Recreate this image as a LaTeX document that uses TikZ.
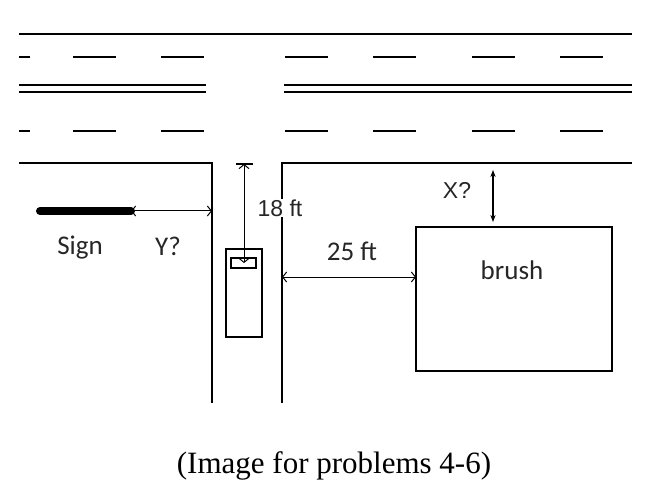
\documentclass[tikz,border=0pt]{standalone}
\usepackage{fontspec}
\setmainfont{Liberation Serif}
\newfontfamily\calib{Carlito}
\newfontfamily\arialf{Liberation Sans}
\usetikzlibrary{arrows.meta,positioning}
\tikzset{
  road/.style={line width=2pt},
  dim/.style={line width=1pt,{Straight Barb[length=4pt,width=10pt]}-{Straight Barb[length=4pt,width=10pt]}},
  lbl/.style={font=\calib\fontsize{27}{27}\selectfont,text=black!85},
  albl/.style={font=\arialf\fontsize{23}{23}\selectfont,text=black!85,inner sep=1pt}
}
\begin{document}
\begin{tikzpicture}[x=1pt,y=-1pt]
\useasboundingbox (0,0) rectangle (668,502);

% the street
\draw[road] (19,34) -- (632,34);
\foreach \y in {57,131} {
  \foreach \a/\b in {19/30,73/116,161/204,285/328,373/416,472/515,560/603}
    \draw[road] (\a,\y) -- (\b,\y);
}
\foreach \y in {85,92} {
  \draw[road] (19,\y) -- (206,\y);
  \draw[road] (284,\y) -- (632,\y);
}

% side road
\draw[road] (19,163) -- (212,163) -- (212,403);
\draw[road] (632,163) -- (282,163) -- (282,403);

% car
\draw[line width=1.5pt] (226,249) rectangle (262,337);
\draw[line width=1.5pt] (231,258) rectangle (256,268);

% brush
\draw[line width=1.5pt] (416,227) rectangle (612,371);
\node[lbl] (brush) at (512,270) {brush};

% sign
\coordinate (signL) at (40,211);
\coordinate (signR) at (131,211);
\draw[line width=8pt,line cap=round] (signL) -- (signR);
\node[lbl] (sign) at (80,248) {Sign};

% distances
\coordinate (curbL) at (212,211);
\draw[dim] (signR) -- (curbL);
\node[lbl] (ylab) at (168,246) {Y?};

\coordinate (carF) at (244,263);
\coordinate (stop) at (244,164);
\draw[dim] (carF) -- (stop);
\draw[line width=1.2pt] (236,164) -- (253,164);
\node[albl,fill=white] (eighteen) at (280,208) {18 ft};

\coordinate (curbR) at (282,277);
\coordinate (brushW) at (416,277);
\draw[dim] (curbR) -- (brushW);
\node[lbl] (twentyfive) at (352,251) {25 ft};

\coordinate (xtop) at (493,170);
\coordinate (xbot) at (493,222);
\draw[line width=2pt,{Stealth[length=7pt]}-{Stealth[length=7pt]}] (xtop) -- (xbot);
\node[albl] (xlab) at (457,190) {X?};

\node[font=\fontsize{31}{31}\selectfont] (caption) at (334,466) {(Image for problems 4-6)};
\end{tikzpicture}
\end{document}
